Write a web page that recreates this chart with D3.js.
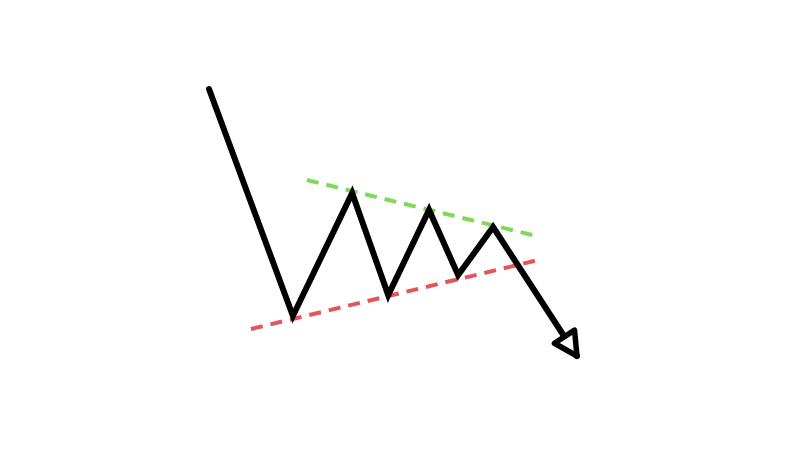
<!DOCTYPE html>
<html>
<head>
  <meta charset="UTF-8" />
  <script src="https://d3js.org/d3.v7.min.js"></script>
  <style>
    body { margin: 0; background: #fff; }
  </style>
</head>
<body>
<svg id="chart" width="800" height="450"></svg>
<script>
  // price path (time steps, price level)
  const pathT = [0, 2.28, 3.89, 4.87, 5.98, 6.77, 7.72, 10];
  const pathP = [10, 1.5, 6.1, 2.28, 5.47, 3.03, 4.83, 0];
  // upper resistance (green) and lower support (red) trend lines
  const upperT = [2.66, 8.91];
  const upperP = [6.59, 4.49];
  const lowerT = [1.14, 9.05];
  const lowerP = [1.01, 3.63];

  const svg = d3.select("#chart");
  svg.append("rect").attr("width", 800).attr("height", 450).attr("fill", "#fff");

  const x = d3.scaleLinear().domain([0, 10]).range([209, 577]);
  const y = d3.scaleLinear().domain([0, 10]).range([356, 89]);

  const line = d3.line().x(d => x(d[0])).y(d => y(d[1]));

  svg.append("defs").append("marker")
    .attr("id", "arrow")
    .attr("viewBox", "-30 -18 36 36")
    .attr("refX", 0)
    .attr("refY", 0)
    .attr("markerUnits", "userSpaceOnUse")
    .attr("markerWidth", 36)
    .attr("markerHeight", 36)
    .attr("orient", "auto")
    .append("path")
    .attr("d", "M-23,-12L0,0L-23,12Z")
    .attr("fill", "#fff")
    .attr("stroke", "#000")
    .attr("stroke-width", 5.5)
    .attr("stroke-linejoin", "round");

  svg.append("path")
    .datum(d3.zip(upperT, upperP))
    .attr("d", line)
    .attr("fill", "none")
    .attr("stroke", "#7ed957")
    .attr("stroke-width", 4)
    .attr("stroke-dasharray", "12 8");

  svg.append("path")
    .datum(d3.zip(lowerT, lowerP))
    .attr("d", line)
    .attr("fill", "none")
    .attr("stroke", "#e5545a")
    .attr("stroke-width", 4)
    .attr("stroke-dasharray", "12 8");

  svg.append("path")
    .datum(d3.zip(pathT, pathP))
    .attr("d", line)
    .attr("fill", "none")
    .attr("stroke", "#000")
    .attr("stroke-width", 6)
    .attr("stroke-linejoin", "miter")
    .attr("stroke-linecap", "round")
    .attr("marker-end", "url(#arrow)");
</script>
</body>
</html>
